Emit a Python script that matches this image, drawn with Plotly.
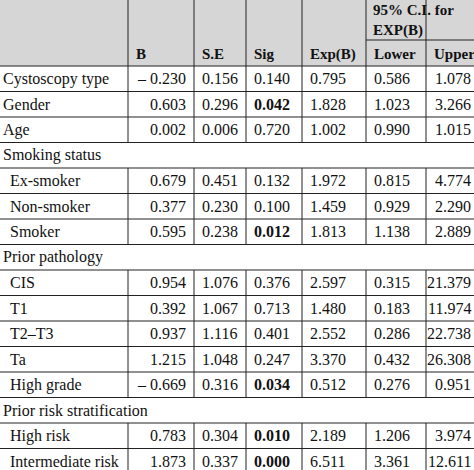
import plotly.graph_objects as go

labels = ["Cystoscopy type", "Gender", "Age", "Smoking status", "Ex-smoker", "Non-smoker",
          "Smoker", "Prior pathology", "CIS", "T1", "T2\u2013T3", "Ta", "High grade",
          "Prior risk stratification", "High risk", "Intermediate risk"]
is_group = [False, False, False, True, False, False, False, True, False, False, False,
            False, False, True, False, False]
indent = [False, False, False, False, True, True, True, False, True, True, True, True,
          True, False, True, True]
col_b = ["\u2013 0.230", "0.603", "0.002", "", "0.679", "0.377", "0.595", "", "0.954", "0.392",
         "0.937", "1.215", "\u2013 0.669", "", "0.783", "1.873"]
col_se = ["0.156", "0.296", "0.006", "", "0.451", "0.230", "0.238", "", "1.076", "1.067",
          "1.116", "1.048", "0.316", "", "0.304", "0.337"]
col_sig = ["0.140", "0.042", "0.720", "", "0.132", "0.100", "0.012", "", "0.376", "0.713",
           "0.401", "0.247", "0.034", "", "0.010", "0.000"]
col_exp = ["0.795", "1.828", "1.002", "", "1.972", "1.459", "1.813", "", "2.597", "1.480",
           "2.552", "3.370", "0.512", "", "2.189", "6.511"]
col_lower = ["0.586", "1.023", "0.990", "", "0.815", "0.929", "1.138", "", "0.315", "0.183",
             "0.286", "0.432", "0.276", "", "1.206", "3.361"]
col_upper = ["1.078", "3.266", "1.015", "", "4.774", "2.290", "2.889", "", "21.379", "11.974",
             "22.738", "26.308", "0.951", "", "3.974", "12.611"]
headers = ["B", "S.E", "Sig", "Exp(B)", "Lower", "Upper"]

# layout geometry (pixels)
edges = [0, 128, 194, 246, 302, 366, 426, 476]
head_h, sub_y, row_h = 66, 40, 25.5
FONT = "Liberation Serif, DejaVu Serif, serif"
FS = 16
W, H = 474, 470

fig = go.Figure()
fig.add_trace(go.Scatter(x=[0, W], y=[0, H], mode="markers", marker=dict(opacity=0),
                         hoverinfo="skip", showlegend=False))
shapes = []
ann = []
line = dict(color="#222", width=1)

shapes.append(dict(type="rect", x0=0, x1=W, y0=0, y1=head_h, fillcolor="#d6d6d6",
                   line=dict(width=0), layer="below"))
for e in edges[1:-1]:
    shapes.append(dict(type="line", x0=e, x1=e, y0=0, y1=head_h, line=line))
shapes.append(dict(type="line", x0=edges[5], x1=W, y0=sub_y, y1=sub_y, line=line))
shapes.append(dict(type="line", x0=0, x1=W, y0=head_h, y1=head_h, line=line))
ann.append(dict(x=edges[5] + 5, y=20, text="<b>95% C.I. for<br>EXP(B)</b>", xanchor="left",
                yanchor="middle", align="left", showarrow=False, font=dict(size=FS - 1)))
for i, h in enumerate(headers):
    ann.append(dict(x=edges[i + 1] + 6, y=(sub_y + head_h) / 2 + 1, text="<b>%s</b>" % h,
                    xanchor="left", yanchor="middle", showarrow=False, font=dict(size=FS - 1)))

cols = [col_b, col_se, col_sig, col_exp, col_lower, col_upper]
for r, lab in enumerate(labels):
    y0 = head_h + r * row_h
    y1 = y0 + row_h
    yc = (y0 + y1) / 2
    shapes.append(dict(type="line", x0=0, x1=W, y0=y1, y1=y1, line=line))
    ann.append(dict(x=8 if indent[r] else 1, y=yc, text=lab, xanchor="left", yanchor="middle",
                    showarrow=False, font=dict(size=FS)))
    if is_group[r]:
        continue
    for e in edges[1:-1]:
        shapes.append(dict(type="line", x0=e, x1=e, y0=y0, y1=y1, line=line))
    for c, vals in enumerate(cols):
        txt = vals[r]
        if c == 2 and float(txt) < 0.05:
            txt = "<b>%s</b>" % txt
        if c in (0, 5):
            ann.append(dict(x=edges[c + 2] - 6 if c == 0 else W - 1, y=yc, text=txt,
                            xanchor="right", yanchor="middle", showarrow=False, font=dict(size=FS)))
        else:
            ann.append(dict(x=edges[c + 1] + 6, y=yc, text=txt, xanchor="left",
                            yanchor="middle", showarrow=False, font=dict(size=FS)))

fig.update_layout(width=W, height=H, margin=dict(l=0, r=0, t=0, b=0),
                  paper_bgcolor="white", plot_bgcolor="white",
                  font=dict(family=FONT, color="#111"),
                  xaxis=dict(range=[0, W], visible=False, fixedrange=True),
                  yaxis=dict(range=[H, 0], visible=False, fixedrange=True),
                  shapes=shapes, annotations=ann)
fig.write_html("out.html", config={"displayModeBar": False},
               post_script="document.body.style.margin='0';document.body.style.overflow='hidden';")
